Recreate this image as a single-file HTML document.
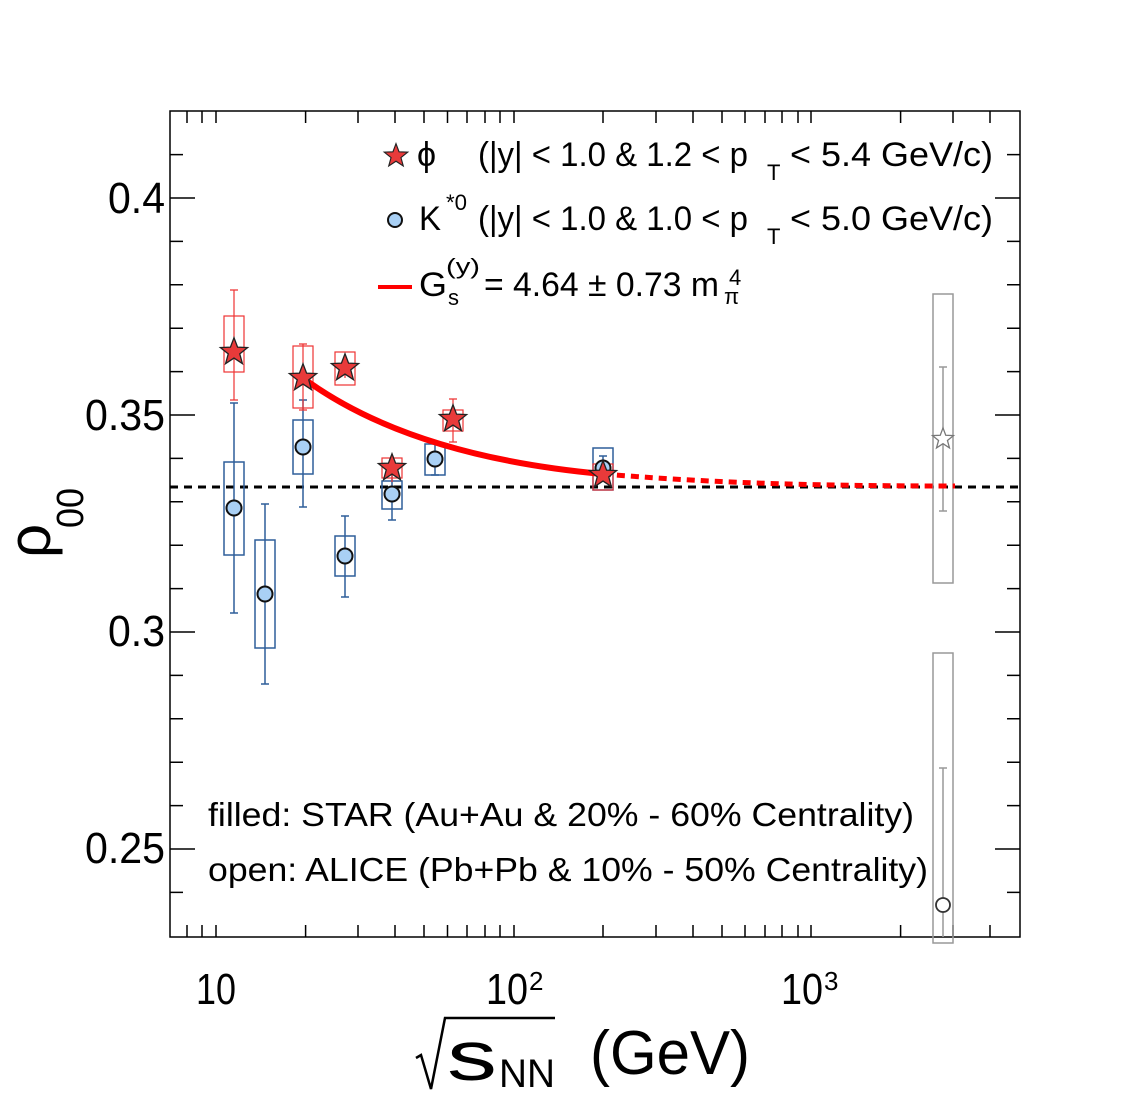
<!DOCTYPE html>
<html><head><meta charset="utf-8"><style>
html,body{margin:0;padding:0;background:#fff;}
svg{display:block;font-family:"Liberation Sans",Arial,sans-serif;}
</style></head><body>
<svg width="1134" height="1102" viewBox="0 0 1134 1102" xmlns="http://www.w3.org/2000/svg">
<defs>
<path id="st" d="M0,-13 L3.23,-4.45 L12.36,-4.02 L5.23,1.7 L7.64,10.52 L0,5.5 L-7.64,10.52 L-5.23,1.7 L-12.36,-4.02 L-3.23,-4.45 Z"/>
</defs>
<rect x="0" y="0" width="1134" height="1102" fill="#fff"/>
<rect x="170" y="111" width="850" height="826" fill="none" stroke="#000" stroke-width="1.5"/>
<g stroke="#000" stroke-width="1.5">
<path d="M170,198h25M170,415h25M170,632h25M170,849h25M1020,198h-25M1020,415h-25M1020,632h-25M1020,849h-25"/>
<path d="M170,154.6h13M170,241.4h13M170,284.8h13M170,328.2h13M170,371.6h13M170,458.4h13M170,501.8h13M170,545.2h13M170,588.6h13M170,675.4h13M170,718.8h13M170,762.2h13M170,805.6h13M170,892.4h13"/>
<path d="M1020,154.6h-13M1020,241.4h-13M1020,284.8h-13M1020,328.2h-13M1020,371.6h-13M1020,458.4h-13M1020,501.8h-13M1020,545.2h-13M1020,588.6h-13M1020,675.4h-13M1020,718.8h-13M1020,762.2h-13M1020,805.6h-13M1020,892.4h-13"/>
<path d="M187,937v-12M202,937v-12M216,937v-12M305.6,937v-12M358,937v-12M395,937v-12M424,937v-12M447.5,937v-12M467,937v-12M485,937v-12M500,937v-12M514,937v-12M603,937v-12M656,937v-12M693,937v-12M722,937v-12M745,937v-12M765,937v-12M782,937v-12M798,937v-12M811,937v-12M900.6,937v-12M953,937v-12M990,937v-12"/>
<path d="M187,111v12M202,111v12M216,111v12M305.6,111v12M358,111v12M395,111v12M424,111v12M447.5,111v12M467,111v12M485,111v12M500,111v12M514,111v12M603,111v12M656,111v12M693,111v12M722,111v12M745,111v12M765,111v12M782,111v12M798,111v12M811,111v12M900.6,111v12M953,111v12M990,111v12"/>
</g>
<g font-size="44" fill="#000">
<text x="108" y="213" textLength="57" lengthAdjust="spacingAndGlyphs">0.4</text>
<text x="85" y="430" textLength="80" lengthAdjust="spacingAndGlyphs">0.35</text>
<text x="108" y="646" textLength="57" lengthAdjust="spacingAndGlyphs">0.3</text>
<text x="85" y="863" textLength="80" lengthAdjust="spacingAndGlyphs">0.25</text>
</g>
<g font-size="44" fill="#000">
<text x="196" y="1004" textLength="40" lengthAdjust="spacingAndGlyphs">10</text>
<text x="486" y="1004" textLength="42" lengthAdjust="spacingAndGlyphs">10</text><text x="529" y="990" font-size="26">2</text>
<text x="781" y="1004" textLength="42" lengthAdjust="spacingAndGlyphs">10</text><text x="824" y="990" font-size="26">3</text>
</g>
<text transform="translate(50,558) rotate(-90)" font-size="60" fill="#000">ρ</text>
<text transform="translate(83,528) rotate(-90)" font-size="38" fill="#000" textLength="40" lengthAdjust="spacingAndGlyphs">00</text>
<g fill="#000">
<path d="M416,1058 l5,-3 l10,34 l14,-71 h110" fill="none" stroke="#000" stroke-width="2.5"/>
<text x="447" y="1080" font-size="70" textLength="50" lengthAdjust="spacingAndGlyphs">s</text>
<text x="499" y="1087" font-size="40" textLength="56" lengthAdjust="spacingAndGlyphs">NN</text>
<text x="590" y="1074" font-size="62" textLength="160" lengthAdjust="spacingAndGlyphs">(GeV)</text>
</g>
<line x1="170" y1="487" x2="1020" y2="487" stroke="#000" stroke-width="3" stroke-dasharray="8,6"/>
<g stroke="#2f5f9a" stroke-width="1.5" fill="none">
<rect x="224" y="462" width="20" height="93"/><path d="M234,403V613M230,403h8M230,613h8"/>
<rect x="255" y="540" width="20" height="108"/><path d="M265,504V684M261,504h8M261,684h8"/>
<rect x="293" y="420" width="20" height="54"/><path d="M303,400V507M299,400h8M299,507h8"/>
<rect x="335" y="536" width="20" height="40"/><path d="M345,516V597M341,516h8M341,597h8"/>
<rect x="382" y="481" width="20" height="28"/><path d="M392,468V520M388,520h8"/>
<rect x="425" y="444" width="20" height="31"/><path d="M435,444V475M431,475h8"/>
<rect x="593" y="448" width="20" height="42"/><path d="M603,456V479M599,456h8"/>
</g>
<g stroke="#e33" stroke-width="1.2" fill="none">
<rect x="224" y="316" width="20" height="56"/><path d="M234,290V400M230,290h8M230,400h8"/>
<rect x="293" y="346" width="20" height="62"/><path d="M303,344V410M299,344h8M299,410h8"/>
<rect x="335" y="352" width="20" height="33"/><path d="M345,355V378"/>
<rect x="382" y="458" width="20" height="20"/><path d="M392,455V482"/>
<rect x="443" y="410" width="20" height="21"/><path d="M453,399V442M449,399h8M449,442h8"/>
<rect x="593" y="464" width="20" height="26"/>
</g>
<g stroke="#999" stroke-width="1.5" fill="none">
<rect x="933" y="294" width="20" height="289"/><path d="M943,367V511M939,367h8M939,511h8"/>
<rect x="933" y="653" width="20" height="290"/><path d="M943,768V937M939,768h8"/>
</g>
<use href="#st" transform="translate(943,439) scale(0.85)" fill="#fff" stroke="#777" stroke-width="1.5"/>
<circle cx="943" cy="905" r="7" fill="#fff" stroke="#333" stroke-width="1.8"/>
<g fill="#a9d0f5" stroke="#111" stroke-width="2">
<circle cx="234" cy="508" r="7.5"/><circle cx="265" cy="594" r="7.5"/><circle cx="303" cy="447" r="7.5"/>
<circle cx="345" cy="556" r="7.5"/><circle cx="392" cy="494" r="7.5"/><circle cx="435" cy="459" r="7.5"/>
<circle cx="603" cy="468" r="7.5"/>
</g>
<path d="M303,378 C360,420 450,460 603,474" fill="none" stroke="#f00" stroke-width="6"/>
<path d="M603,474 C700,482 800,486 955,486" fill="none" stroke="#f00" stroke-width="5" stroke-dasharray="8,6"/>
<g fill="#e83a3a" stroke="#222" stroke-width="1.2">
<use href="#st" transform="translate(234,352) scale(1.1)"/>
<use href="#st" transform="translate(303,378) scale(1.1)"/>
<use href="#st" transform="translate(345,368) scale(1.1)"/>
<use href="#st" transform="translate(392,468) scale(1.1)"/>
<use href="#st" transform="translate(453,419) scale(1.1)"/>
<use href="#st" transform="translate(603,475) scale(1.1)"/>
</g>
<use href="#st" transform="translate(396,156) scale(0.95)" fill="#e83a3a" stroke="#222" stroke-width="1.2"/>
<circle cx="395" cy="220" r="7" fill="#a9d0f5" stroke="#111" stroke-width="2"/>
<line x1="378" y1="287" x2="412" y2="287" stroke="#f00" stroke-width="4"/>
<g font-size="34" fill="#000">
<text x="417" y="166">ϕ</text>
<text x="478" y="166" textLength="270" lengthAdjust="spacingAndGlyphs">(|y| &lt; 1.0 &amp; 1.2 &lt; p</text><text x="767" y="180" font-size="22">T</text><text x="790" y="166" textLength="203" lengthAdjust="spacingAndGlyphs">&lt; 5.4 GeV/c)</text>
<text x="419" y="230" textLength="22" lengthAdjust="spacingAndGlyphs">K</text><text x="446" y="210" font-size="22" textLength="21" lengthAdjust="spacingAndGlyphs">*0</text>
<text x="478" y="230" textLength="270" lengthAdjust="spacingAndGlyphs">(|y| &lt; 1.0 &amp; 1.0 &lt; p</text><text x="767" y="244" font-size="22">T</text><text x="790" y="230" textLength="203" lengthAdjust="spacingAndGlyphs">&lt; 5.0 GeV/c)</text>
<text x="419" y="296" textLength="28" lengthAdjust="spacingAndGlyphs">G</text><text x="448" y="305" font-size="22">s</text><text x="446" y="274" font-size="22" textLength="34" lengthAdjust="spacingAndGlyphs">(y)</text>
<text x="484" y="296" textLength="235" lengthAdjust="spacingAndGlyphs">= 4.64 ± 0.73 m</text><text x="729" y="285" font-size="22">4</text><text x="724" y="304" font-size="22">π</text>
</g>
<g font-size="33" fill="#000">
<text x="208" y="826" textLength="706" lengthAdjust="spacingAndGlyphs">filled: STAR (Au+Au &amp; 20% - 60% Centrality)</text>
<text x="208" y="881" textLength="720" lengthAdjust="spacingAndGlyphs">open: ALICE (Pb+Pb &amp; 10% - 50% Centrality)</text>
</g>
</svg>
</body></html>
